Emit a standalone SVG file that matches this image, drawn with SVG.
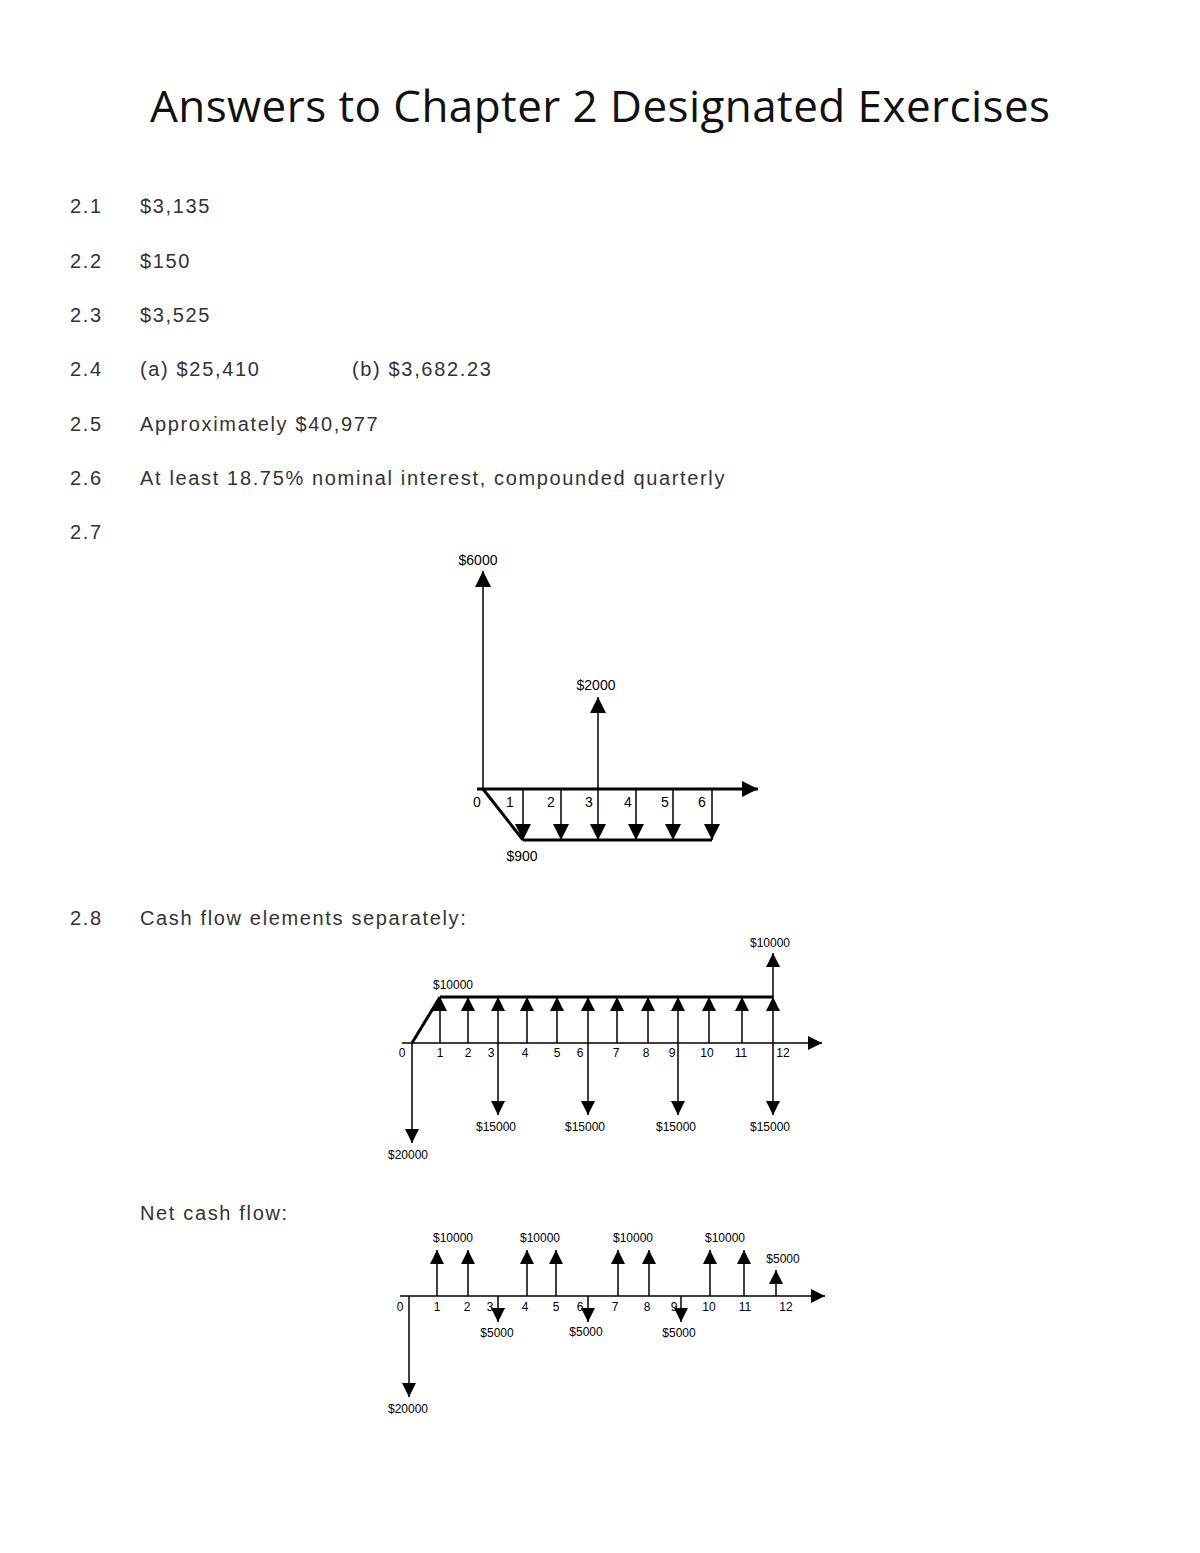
<svg xmlns="http://www.w3.org/2000/svg" width="1200" height="1553" viewBox="0 0 1200 1553">
<style>
.t{font-family:"Liberation Sans",Arial,sans-serif;font-size:20px;fill:#333;letter-spacing:1.65px}
.s{font-family:"Liberation Sans",Arial,sans-serif;font-size:14px;fill:#000}
.x{font-family:"Liberation Sans",Arial,sans-serif;font-size:12px;fill:#000;text-anchor:middle}
.l{stroke:#000;stroke-width:1.5;fill:none}
.a{stroke:#000;stroke-width:3;fill:none}
.u{marker-end:url(#m)}
.v{marker-end:url(#n)}
</style>
<defs>
<marker id="m" markerUnits="userSpaceOnUse" markerWidth="16" markerHeight="16" refX="16" refY="8" orient="auto"><path d="M0,0L16,8L0,16z" fill="#000"/></marker>
<marker id="n" markerUnits="userSpaceOnUse" markerWidth="14" markerHeight="14" refX="14" refY="7" orient="auto"><path d="M0,0L14,7L0,14z" fill="#000"/></marker>
</defs>
<rect width="1200" height="1553" fill="#fff"/>
<text x="600" y="122" text-anchor="middle" textLength="900" style="font-family:'Open Sans','Liberation Sans',sans-serif;font-size:44px;fill:#111">Answers to Chapter 2 Designated Exercises</text>
<g id="answers">
<text class="t" x="70" y="213">2.1</text><text class="t" x="140" y="213">$3,135</text>
<text class="t" x="70" y="268">2.2</text><text class="t" x="140" y="268">$150</text>
<text class="t" x="70" y="322">2.3</text><text class="t" x="140" y="322">$3,525</text>
<text class="t" x="70" y="376">2.4</text><text class="t" x="140" y="376">(a) $25,410</text><text class="t" x="352" y="376">(b) $3,682.23</text>
<text class="t" x="70" y="431">2.5</text><text class="t" x="140" y="431">Approximately $40,977</text>
<text class="t" x="70" y="485">2.6</text><text class="t" x="140" y="485">At least 18.75% nominal interest, compounded quarterly</text>
<text class="t" x="70" y="539">2.7</text>
<text class="t" x="70" y="925">2.8</text><text class="t" x="140" y="925">Cash flow elements separately:</text>
<text class="t" x="140" y="1220">Net cash flow:</text>
</g>
<g id="diagram27">
<line class="a u" x1="477" y1="789" x2="758" y2="789"/>
<line class="l u" x1="483" y1="789" x2="483" y2="571"/>
<line class="l u" x1="598" y1="789" x2="598" y2="697"/>
<line class="l u" x1="523" y1="789" x2="523" y2="840"/>
<line class="l u" x1="561" y1="789" x2="561" y2="840"/>
<line class="l u" x1="598" y1="789" x2="598" y2="840"/>
<line class="l u" x1="636" y1="789" x2="636" y2="840"/>
<line class="l u" x1="673" y1="789" x2="673" y2="840"/>
<line class="l u" x1="712" y1="789" x2="712" y2="840"/>
<line class="a" x1="483" y1="789" x2="523" y2="840"/>
<line class="a" x1="523" y1="840" x2="712" y2="840"/>
<text class="s" x="478" y="565" text-anchor="middle">$6000</text>
<text class="s" x="596" y="690" text-anchor="middle">$2000</text>
<text class="s" x="522" y="861" text-anchor="middle">$900</text>
<g text-anchor="middle"><text class="s" x="477" y="807">0</text><text class="s" x="510" y="807">1</text><text class="s" x="551" y="807">2</text><text class="s" x="589" y="807">3</text><text class="s" x="628" y="807">4</text><text class="s" x="665" y="807">5</text><text class="s" x="702" y="807">6</text></g>
</g>
<g id="diagram28a">
<line class="l v" x1="402" y1="1043" x2="822" y2="1043"/>
<g class="l v">
<line x1="440" y1="1043" x2="440" y2="997"/><line x1="468" y1="1043" x2="468" y2="997"/><line x1="498" y1="1043" x2="498" y2="997"/><line x1="527" y1="1043" x2="527" y2="997"/><line x1="557" y1="1043" x2="557" y2="997"/><line x1="588" y1="1043" x2="588" y2="997"/><line x1="617" y1="1043" x2="617" y2="997"/><line x1="648" y1="1043" x2="648" y2="997"/><line x1="678" y1="1043" x2="678" y2="997"/><line x1="709" y1="1043" x2="709" y2="997"/><line x1="742" y1="1043" x2="742" y2="997"/><line x1="773" y1="1043" x2="773" y2="997"/>
<line x1="773" y1="997" x2="773" y2="953"/>
<line x1="498" y1="1043" x2="498" y2="1115"/><line x1="588" y1="1043" x2="588" y2="1115"/><line x1="678" y1="1043" x2="678" y2="1115"/><line x1="773" y1="1043" x2="773" y2="1115"/>
<line x1="412" y1="1043" x2="412" y2="1143"/>
</g>
<line class="a" x1="440" y1="997" x2="773" y2="997"/>
<line class="a" x1="412" y1="1043" x2="440" y2="997"/>
<text class="x" x="402" y="1057">0</text><text class="x" x="440" y="1057">1</text><text class="x" x="468" y="1057">2</text><text class="x" x="491" y="1057">3</text><text class="x" x="525" y="1057">4</text><text class="x" x="557" y="1057">5</text><text class="x" x="580" y="1057">6</text><text class="x" x="616" y="1057">7</text><text class="x" x="646" y="1057">8</text><text class="x" x="672" y="1057">9</text><text class="x" x="707" y="1057">10</text><text class="x" x="741" y="1057">11</text><text class="x" x="783" y="1057">12</text>
<text class="x" x="453" y="989">$10000</text><text class="x" x="770" y="947">$10000</text>
<text class="x" x="496" y="1131">$15000</text><text class="x" x="585" y="1131">$15000</text><text class="x" x="676" y="1131">$15000</text><text class="x" x="770" y="1131">$15000</text>
<text class="x" x="408" y="1159">$20000</text>
</g>
<g id="diagram28b">
<line class="l v" x1="400" y1="1296" x2="825" y2="1296"/>
<g class="l v">
<line x1="437" y1="1296" x2="437" y2="1250"/><line x1="468" y1="1296" x2="468" y2="1250"/><line x1="527" y1="1296" x2="527" y2="1250"/><line x1="556" y1="1296" x2="556" y2="1250"/><line x1="618" y1="1296" x2="618" y2="1250"/><line x1="649" y1="1296" x2="649" y2="1250"/><line x1="710" y1="1296" x2="710" y2="1250"/><line x1="744" y1="1296" x2="744" y2="1250"/>
<line x1="776" y1="1296" x2="776" y2="1270"/>
<line x1="498" y1="1296" x2="498" y2="1322"/><line x1="588" y1="1296" x2="588" y2="1322"/><line x1="681" y1="1296" x2="681" y2="1322"/>
<line x1="409" y1="1296" x2="409" y2="1397"/>
</g>
<text class="x" x="400" y="1311">0</text><text class="x" x="437" y="1311">1</text><text class="x" x="467" y="1311">2</text><text class="x" x="490" y="1311">3</text><text class="x" x="525" y="1311">4</text><text class="x" x="556" y="1311">5</text><text class="x" x="580" y="1311">6</text><text class="x" x="615" y="1311">7</text><text class="x" x="647" y="1311">8</text><text class="x" x="674" y="1311">9</text><text class="x" x="709" y="1311">10</text><text class="x" x="745" y="1311">11</text><text class="x" x="786" y="1311">12</text>
<text class="x" x="453" y="1242">$10000</text><text class="x" x="540" y="1242">$10000</text><text class="x" x="633" y="1242">$10000</text><text class="x" x="725" y="1242">$10000</text>
<text class="x" x="783" y="1263">$5000</text>
<text class="x" x="497" y="1337">$5000</text><text class="x" x="586" y="1336">$5000</text><text class="x" x="679" y="1337">$5000</text>
<text class="x" x="408" y="1413">$20000</text>
</g>
</svg>
